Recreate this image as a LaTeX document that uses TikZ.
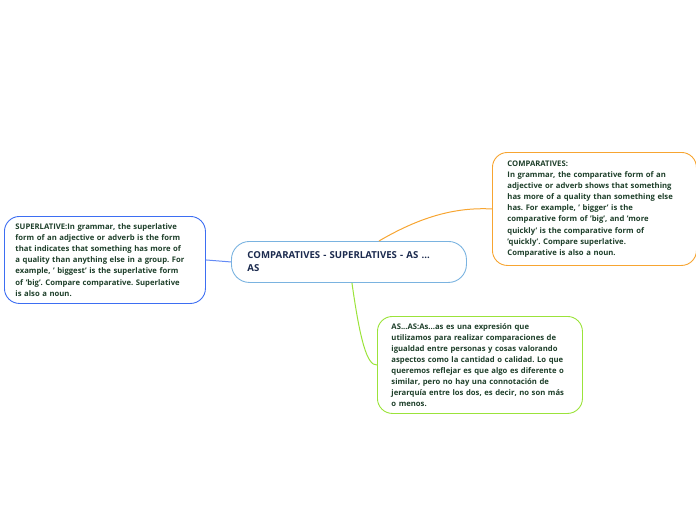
\documentclass[tikz,border=0pt]{standalone}
\usepackage{fontspec}
\setmainfont{Open Sans}
\usepackage{tikz}
\frenchspacing

\definecolor{topicblue}{HTML}{7AB3E0}
\definecolor{supblue}{HTML}{3D6EF2}
\definecolor{compor}{HTML}{F7A531}
\definecolor{asgreen}{HTML}{9BE33A}
\definecolor{leaftext}{HTML}{1E3F2A}
\definecolor{topictext}{HTML}{1B2A4E}

\begin{document}
\begin{tikzpicture}[
    x=1pt, y=-1pt,
    topic/.style = {draw=topicblue, line width=0.9pt, rounded corners=18pt,
                    anchor=north west, align=left, text=topictext,
                    font=\fontsize{9.6}{13}\selectfont\bfseries},
    leaf/.style  = {line width=0.9pt, rounded corners=15pt, anchor=north west,
                    align=left, text=leaftext,
                    font=\fontsize{7.7}{11.1}\selectfont\bfseries},
    link/.style  = {line width=1pt}
  ]

    \useasboundingbox (0,0) rectangle (696,520);

    %% ---- main topic ----
    \node[topic, minimum width=235, minimum height=41, inner xsep=16pt, text width=203]
      (central) at (231,241)
      {COMPARATIVES - SUPERLATIVES - AS ...\\AS};

    %% ---- subtopics ----
    \node[leaf, draw=supblue, minimum width=201, minimum height=87,
          inner xsep=11pt, text width=179] (superlative) at (4,216)
      {SUPERLATIVE:In grammar, the superlative\\
       form of an adjective or adverb is the form\\
       that indicates that something has more of\\
       a quality than anything else in a group. For\\
       example, ' biggest' is the superlative form\\
       of 'big'. Compare comparative. Superlative\\
       is also a noun.};

    \node[leaf, draw=compor, minimum width=204, minimum height=113,
          inner xsep=15pt, text width=174] (comparatives) at (492,152)
      {COMPARATIVES:\\
       In grammar, the comparative form of an\\
       adjective or adverb shows that something\\
       has more of a quality than something else\\
       has. For example, ' bigger' is the\\
       comparative form of 'big', and 'more\\
       quickly' is the comparative form of\\
       'quickly'. Compare superlative.\\
       Comparative is also a noun.};

    \node[leaf, draw=asgreen, minimum width=205, minimum height=97,
          inner xsep=14pt, text width=177] (asas) at (377,316)
      {AS...AS:As...as es una expresión que\\
       utilizamos para realizar comparaciones de\\
       igualdad entre personas y cosas valorando\\
       aspectos como la cantidad o calidad. Lo que\\
       queremos reflejar es que algo es diferente o\\
       similar, pero no hay una connotación de\\
       jerarquía entre los dos, es decir, no son más\\
       o menos.};

    %% ---- connectors ----
    \draw[link, draw=supblue!80] (superlative.east) -- (central.west);
    \draw[link, draw=compor] ([xshift=30pt]central.north)
      .. controls (420,217) and (455,207) .. (comparatives.west);
    \draw[link, draw=asgreen] ([xshift=3pt]central.south)
      .. controls (360,340) and (367,366) .. (asas.west);
  \end{tikzpicture}
\end{document}
